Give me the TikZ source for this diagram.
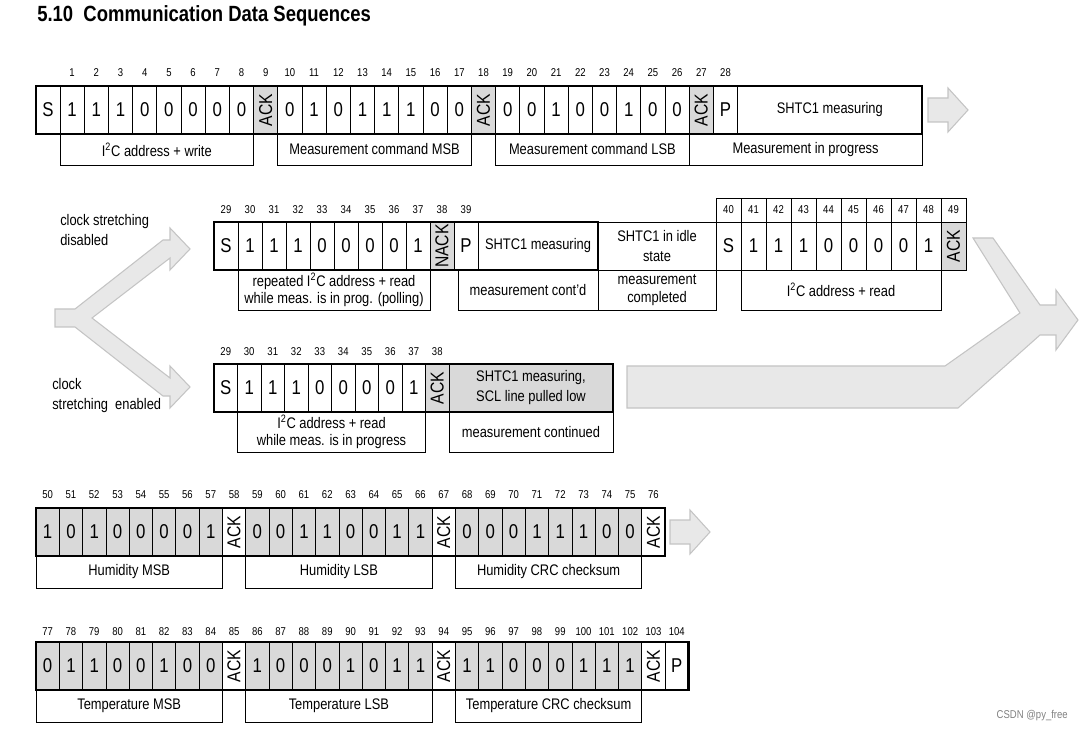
\documentclass[tikz,border=0pt]{standalone}
\usepackage{fontspec}
\setmainfont{Liberation Sans}[FakeStretch=0.84]
\begin{document}
\definecolor{shade}{HTML}{D9D9D9}
\definecolor{arrfill}{HTML}{E8E8E8}
\definecolor{arrline}{HTML}{C4C4C4}
\tikzset{
 cell/.style={draw, line width=0.6pt, inner sep=0pt, font=\fontsize{15}{15}\selectfont},
 fw/.style={fill=white}, fg/.style={fill=shade}, fa/.style={fill=shade}, fk/.style={fill=white},
 tw/.style={node contents={#1}}, tg/.style={node contents={#1}}, 
 ta/.style={label={[rotate=90,font=\fontsize{14}{14}\selectfont]center:#1}, node contents={}},
 tk/.style={label={[rotate=90,font=\fontsize{14}{14}\selectfont]center:#1}, node contents={}},
 num/.style={font=\fontsize{8.5}{9}\selectfont, inner sep=0pt},
 lab/.style={draw, line width=0.6pt, fill=white, inner sep=0pt, align=center, font=\fontsize{11.5}{13}\selectfont},
 thick box/.style={draw, line width=1.8pt},
 bigarrow/.style={fill=arrfill, draw=arrline, line width=0.8pt},
 note/.style={align=left, anchor=west, font=\fontsize{11.5}{15}\selectfont, inner sep=0pt}
}
\begin{tikzpicture}[x=0.75pt,y=-0.75pt]
\useasboundingbox (0,0) rectangle (1083,731);
\node[anchor=west, font=\bfseries\fontsize{16.5}{18}\selectfont, inner sep=0pt] (title) at (37,16) {5.10\ \ Communication Data Sequences};

% ---------- Row 1
\foreach \t/\s [count=\i from 0] in {S/w,1/w,1/w,1/w,0/w,0/w,0/w,0/w,0/w,ACK/a,0/w,1/w,0/w,1/w,1/w,1/w,0/w,0/w,ACK/a,0/w,0/w,1/w,0/w,0/w,1/w,0/w,0/w,ACK/a,P/w}
  \node[cell, f\s, minimum width=24.2*0.75pt, minimum height=48*0.75pt, name=ra\i, at={({35.8+24.2*\i+12.1},110)}, t\s=\t];
\foreach \n in {1,...,28} \node[num] (na\n) at ({35.8+24.2*\n+12.1},73) {\n};
\node[cell, minimum width=184.4*0.75pt, minimum height=48*0.75pt, font=\fontsize{11.5}{13}\selectfont] (ram) at (829.8,110) {SHTC1 measuring};
\draw[thick box] (35.8,86) rectangle (922,134);
\node[lab, minimum width=193.6*0.75pt, minimum height=31*0.75pt] (la1) at (156.8,149.5) {I\textsuperscript{2}C address + write};
\node[lab, minimum width=193.6*0.75pt, minimum height=31*0.75pt] (la2) at (374.6,149.5) {Measurement command MSB};
\node[lab, minimum width=193.6*0.75pt, minimum height=31*0.75pt] (la3) at (592.4,149.5) {Measurement command LSB};
\node[lab, minimum width=232.8*0.75pt, minimum height=31*0.75pt] (la4) at (805.6,149.5) {Measurement in progress};
\draw[bigarrow] (928,98) -- (948,98) -- (948,88) -- (968,110) -- (948,132) -- (948,122) -- (928,122) -- cycle;

% ---------- Left split arrow
\draw[bigarrow] (55,309) -- (75,309) -- (163,240) -- (170,240) -- (170,228) -- (190,249) -- (170,270) -- (170,258) -- (92,318) -- (170,378) -- (170,366) -- (190,387) -- (170,408) -- (170,396) -- (163,396) -- (75,327) -- (55,327) -- cycle;
\node[note] (cs1) at (60,230) {clock stretching\\disabled};
\node[note] (cs2) at (52,396) {clock\\stretching\ \ enabled};

% ---------- Right merge arrow
\draw[bigarrow] (627,366) -- (945,366) -- (1020,313) -- (973,238) -- (993,238) -- (1040,305) -- (1056,305) -- (1056,290) -- (1078,320) -- (1056,350) -- (1056,335) -- (1040,335) -- (958,408) -- (627,408) -- cycle;

% ---------- Row 2
\foreach \t/\s [count=\i from 0] in {S/w,1/w,1/w,1/w,0/w,0/w,0/w,0/w,1/w,NACK/a,P/w}
  \node[cell, f\s, minimum width=24*0.75pt, minimum height=48*0.75pt, name=rb\i, at={({214+24*\i+12},246)}, t\s=\t];
\foreach \n [count=\i from 0] in {29,...,39} \node[num] (nb\n) at ({214+24*\i+12},210) {\n};
\node[cell, minimum width=120*0.75pt, minimum height=48*0.75pt, font=\fontsize{11.5}{13}\selectfont] (rbm) at (538,246) {SHTC1 measuring};
\node[cell, minimum width=118*0.75pt, minimum height=48*0.75pt, align=center, font=\fontsize{11.5}{15}\selectfont] (rbi) at (657,246) {SHTC1 in idle\\state};
\foreach \t/\s [count=\i from 0] in {S/w,1/w,1/w,1/w,0/w,0/w,0/w,0/w,1/w,ACK/a}
  \node[cell, f\s, minimum width=25*0.75pt, minimum height=48*0.75pt, name=rc\i, at={({716+25*\i+12.5},246)}, t\s=\t];
\foreach \n [count=\i from 0] in {40,...,49} \node[draw, line width=0.6pt, minimum width=25*0.75pt, minimum height=24*0.75pt, inner sep=0pt, font=\fontsize{8.5}{9}\selectfont] (nc\n) at ({716+25*\i+12.5},210) {\n};
\draw[thick box] (214,222) rectangle (598,270);
\node[lab, minimum width=192*0.75pt, minimum height=40*0.75pt] (lb1) at (334,290) {repeated I\textsuperscript{2}C address + read\\while meas. is in prog. (polling)};
\node[lab, minimum width=140*0.75pt, minimum height=40*0.75pt] (lb2) at (528,290) {measurement cont'd};
\node[lab, minimum width=118*0.75pt, minimum height=40*0.75pt] (lb3) at (657,290) {measurement\\completed};
\node[lab, minimum width=200*0.75pt, minimum height=40*0.75pt] (lb4) at (841,290) {I\textsuperscript{2}C address + read};

% ---------- Row 3
\foreach \t/\s [count=\i from 0] in {S/w,1/w,1/w,1/w,0/w,0/w,0/w,0/w,1/w,ACK/a}
  \node[cell, f\s, minimum width=23.5*0.75pt, minimum height=48*0.75pt, name=rd\i, at={({214+23.5*\i+11.75},388)}, t\s=\t];
\foreach \n [count=\i from 0] in {29,...,38} \node[num] (nd\n) at ({214+23.5*\i+11.75},352) {\n};
\node[cell, fill=shade, minimum width=164*0.75pt, minimum height=48*0.75pt, align=center, font=\fontsize{11.5}{15}\selectfont] (rdm) at (531,388) {SHTC1 measuring,\\SCL line pulled low};
\draw[thick box] (214,364) rectangle (613,412);
\node[lab, minimum width=188*0.75pt, minimum height=40*0.75pt] (ld1) at (331.5,432) {I\textsuperscript{2}C address + read\\while meas. is in progress};
\node[lab, minimum width=164*0.75pt, minimum height=40*0.75pt] (ld2) at (531,432) {measurement continued};

% ---------- Row 4
\foreach \t/\s [count=\i from 0] in {1/g,0/g,1/g,0/g,0/g,0/g,0/g,1/g,ACK/k,0/g,0/g,1/g,1/g,0/g,0/g,1/g,1/g,ACK/k,0/g,0/g,0/g,1/g,1/g,1/g,0/g,0/g,ACK/k}
  \node[cell, f\s, minimum width=23.3*0.75pt, minimum height=48*0.75pt, name=re\i, at={({36+23.3*\i+11.65},532)}, t\s=\t];
\foreach \n [count=\i from 0] in {50,...,76} \node[num] (ne\n) at ({36+23.3*\i+11.65},495) {\n};
\draw[thick box] (36,508) rectangle (665.1,556);
\node[lab, minimum width=186.4*0.75pt, minimum height=32*0.75pt] (le1) at (129.2,572) {Humidity MSB};
\node[lab, minimum width=186.4*0.75pt, minimum height=32*0.75pt] (le2) at (338.9,572) {Humidity LSB};
\node[lab, minimum width=186.4*0.75pt, minimum height=32*0.75pt] (le3) at (548.6,572) {Humidity CRC checksum};
\draw[bigarrow] (670,520) -- (690,520) -- (690,510) -- (710,532) -- (690,554) -- (690,544) -- (670,544) -- cycle;

% ---------- Row 5
\foreach \t/\s [count=\i from 0] in {0/g,1/g,1/g,0/g,0/g,1/g,0/g,0/g,ACK/k,1/g,0/g,0/g,0/g,1/g,0/g,1/g,1/g,ACK/k,1/g,1/g,0/g,0/g,0/g,1/g,1/g,1/g,ACK/k,P/w}
  \node[cell, f\s, minimum width=23.3*0.75pt, minimum height=48*0.75pt, name=rf\i, at={({36+23.3*\i+11.65},666)}, t\s=\t];
\foreach \n [count=\i from 0] in {77,...,104} \node[num] (nf\n) at ({36+23.3*\i+11.65},632) {\n};
\draw[thick box] (36,642) rectangle (688.4,690);
\node[lab, minimum width=186.4*0.75pt, minimum height=32*0.75pt] (lf1) at (129.2,706) {Temperature MSB};
\node[lab, minimum width=186.4*0.75pt, minimum height=32*0.75pt] (lf2) at (338.9,706) {Temperature LSB};
\node[lab, minimum width=186.4*0.75pt, minimum height=32*0.75pt] (lf3) at (548.6,706) {Temperature CRC checksum};

\node[anchor=east, text=gray, font=\fontsize{8.5}{9}\selectfont, inner sep=0pt] (wm) at (1068,716) {CSDN @py\_free};
\end{tikzpicture}
\end{document}
